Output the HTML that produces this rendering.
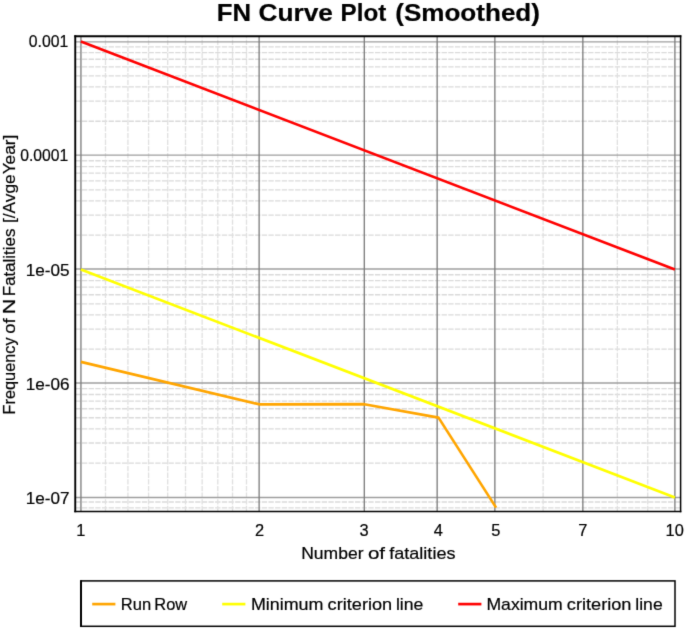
<!DOCTYPE html>
<html><head><meta charset="utf-8"><title>FN Curve Plot (Smoothed)</title>
<style>
html,body{margin:0;padding:0;background:#fff;}
body{width:685px;height:629px;overflow:hidden;}
svg{display:block;}
text{font-family:"Liberation Sans",sans-serif;fill:#000;stroke:#000;stroke-width:0.2px;}
</style></head><body>
<svg width="685" height="629" viewBox="0 0 685 629">
<g filter="url(#soft)">
<rect width="685" height="629" fill="#fff"/>
<defs><filter id="soft" x="0" y="0" width="100%" height="100%" filterUnits="objectBoundingBox" color-interpolation-filters="sRGB"><feConvolveMatrix order="3" kernelMatrix="0.0113 0.0838 0.0113 0.0838 0.6193 0.0838 0.0113 0.0838 0.0113" divisor="1" bias="0" edgeMode="duplicate" preserveAlpha="false"/></filter><clipPath id="pa"><rect x="75.3" y="36.3" width="605.3000000000001" height="474.9"/></clipPath></defs>
<g clip-path="url(#pa)" fill="none">
<g stroke="#DADADA" stroke-opacity="1" stroke-width="1.33" stroke-dasharray="5.33 1.33">
<path d="M75.3 507.80H680.6"/>
<path d="M75.3 502.00H680.6"/>
<path d="M75.3 463.10H680.6"/>
<path d="M75.3 443.03H680.6"/>
<path d="M75.3 428.80H680.6"/>
<path d="M75.3 417.75H680.6"/>
<path d="M75.3 408.73H680.6"/>
<path d="M75.3 401.10H680.6"/>
<path d="M75.3 394.49H680.6"/>
<path d="M75.3 388.66H680.6"/>
<path d="M75.3 349.15H680.6"/>
<path d="M75.3 329.08H680.6"/>
<path d="M75.3 314.85H680.6"/>
<path d="M75.3 303.80H680.6"/>
<path d="M75.3 294.78H680.6"/>
<path d="M75.3 287.15H680.6"/>
<path d="M75.3 280.54H680.6"/>
<path d="M75.3 274.71H680.6"/>
<path d="M75.3 235.20H680.6"/>
<path d="M75.3 215.13H680.6"/>
<path d="M75.3 200.90H680.6"/>
<path d="M75.3 189.85H680.6"/>
<path d="M75.3 180.83H680.6"/>
<path d="M75.3 173.20H680.6"/>
<path d="M75.3 166.59H680.6"/>
<path d="M75.3 160.76H680.6"/>
<path d="M75.3 121.25H680.6"/>
<path d="M75.3 101.18H680.6"/>
<path d="M75.3 86.95H680.6"/>
<path d="M75.3 75.90H680.6"/>
<path d="M75.3 66.88H680.6"/>
<path d="M75.3 59.25H680.6"/>
<path d="M75.3 52.64H680.6"/>
<path d="M75.3 46.81H680.6"/>
</g>
<g stroke="#E0E0E0" stroke-width="1.33" stroke-dasharray="5.33 1.33">
<path d="M105.49 511.2V36.3"/>
<path d="M127.93 511.2V36.3"/>
<path d="M148.58 511.2V36.3"/>
<path d="M167.70 511.2V36.3"/>
<path d="M185.50 511.2V36.3"/>
<path d="M202.15 511.2V36.3"/>
<path d="M217.79 511.2V36.3"/>
<path d="M232.53 511.2V36.3"/>
<path d="M246.48 511.2V36.3"/>
<path d="M543.12 511.2V36.3"/>
<path d="M617.34 511.2V36.3"/>
<path d="M647.72 511.2V36.3"/>
</g>
<g stroke="#7C7C7C" stroke-opacity="1" stroke-width="1.33">
<path d="M75.3 41.80H680.6" stroke="#9E9E9E"/>
<path d="M75.3 155.20H680.6" stroke="#9E9E9E"/>
<path d="M75.3 269.00H680.6" stroke="#9E9E9E"/>
<path d="M75.3 383.00H680.6" stroke="#9E9E9E"/>
<path d="M75.3 497.50H680.6" stroke="#9E9E9E"/>
<path d="M80.94 511.2V36.3"/>
<path d="M259.13 511.2V36.3"/>
<path d="M364.30 511.2V36.3"/>
<path d="M437.15 511.2V36.3"/>
<path d="M494.86 511.2V36.3"/>
<path d="M582.85 511.2V36.3"/>
<path d="M674.90 511.2V36.3"/>
</g>
<path d="M80.90 361.90 L259.71 404.40 L364.31 404.20 L438.52 417.60 L496.09 507.60" stroke="#FFA500" stroke-width="2.67" stroke-linejoin="round"/>
<path d="M80.90 269.50 L674.90 497.40" stroke="#FFFF00" stroke-width="2.67" stroke-linejoin="round"/>
<path d="M80.90 41.60 L674.90 269.50" stroke="#FF0000" stroke-width="2.67" stroke-linejoin="round"/>
</g>
<g stroke="#000" fill="none"><path d="M74.3 36.25H681.35" stroke-width="1.9"/><path d="M75.25 35.3V512.15" stroke-width="1.9"/><path d="M680.6 35.3V512.15" stroke-width="1.5"/><path d="M74.3 511.4H681.35" stroke-width="1.5"/></g>
<text id="title" y="20.8" font-size="24" font-weight="bold"><tspan x="216.70" textLength="34.33" lengthAdjust="spacingAndGlyphs">FN</tspan> <tspan x="258.42" textLength="74.48" lengthAdjust="spacingAndGlyphs">Curve</tspan> <tspan x="340.60" textLength="45.68" lengthAdjust="spacingAndGlyphs">Plot</tspan> <tspan x="395.22" textLength="144.75" lengthAdjust="spacingAndGlyphs">(Smoothed)</tspan></text>
<text class="yt" y="47.2" font-size="16.4"><tspan x="28.78" textLength="39.48" lengthAdjust="spacingAndGlyphs">0.001</tspan></text>
<text class="yt" y="160.9" font-size="16.4"><tspan x="20.19" textLength="48.08" lengthAdjust="spacingAndGlyphs">0.0001</tspan></text>
<text class="yt" y="275.9" font-size="16.4"><tspan x="25.80" textLength="43.82" lengthAdjust="spacingAndGlyphs">1e-05</tspan></text>
<text class="yt" y="389.9" font-size="16.4"><tspan x="25.80" textLength="43.85" lengthAdjust="spacingAndGlyphs">1e-06</tspan></text>
<text class="yt" y="503.7" font-size="16.4"><tspan x="25.80" textLength="43.77" lengthAdjust="spacingAndGlyphs">1e-07</tspan></text>
<text class="xt" x="80.70" y="536.2" text-anchor="middle" font-size="16.4">1</text>
<text class="xt" x="259.51" y="536.2" text-anchor="middle" font-size="16.4">2</text>
<text class="xt" x="364.11" y="536.2" text-anchor="middle" font-size="16.4">3</text>
<text class="xt" x="438.32" y="536.2" text-anchor="middle" font-size="16.4">4</text>
<text class="xt" x="495.89" y="536.2" text-anchor="middle" font-size="16.4">5</text>
<text class="xt" x="582.69" y="536.2" text-anchor="middle" font-size="16.4">7</text>
<text class="xt" x="674.70" y="536.2" text-anchor="middle" font-size="16.4">10</text>
<text id="xtitle" y="559.1" font-size="16.4"><tspan x="301.16" textLength="62.31" lengthAdjust="spacingAndGlyphs">Number</tspan> <tspan x="367.94" textLength="17.12" lengthAdjust="spacingAndGlyphs">of</tspan> <tspan x="389.25" textLength="66.21" lengthAdjust="spacingAndGlyphs">fatalities</tspan></text>
<text id="ytitle" transform="translate(15.25 0) rotate(-90)" font-size="16.4"><tspan x="-414.54" textLength="77.17" lengthAdjust="spacingAndGlyphs">Frequency</tspan> <tspan x="-333.78" textLength="15.44" lengthAdjust="spacingAndGlyphs">of</tspan> <tspan x="-314.37" textLength="15.63" lengthAdjust="spacingAndGlyphs">N</tspan> <tspan x="-296.18" textLength="67.50" lengthAdjust="spacingAndGlyphs">Fatalities</tspan> <tspan x="-223.13" textLength="88.56" lengthAdjust="spacingAndGlyphs">[/AvgeYear]</tspan></text>
<rect x="81" y="580.9" width="594" height="45.4" fill="#fff" stroke="#000" stroke-width="1.5"/>
<path d="M81 580.15V627.05" stroke="#000" stroke-width="2" fill="none"/>
<path d="M92.2 604.1H115.4" stroke="#FFA500" stroke-width="2.67" fill="none"/>
<text class="lg" y="610.3" font-size="16.4"><tspan x="120.84" textLength="30.32" lengthAdjust="spacingAndGlyphs">Run</tspan> <tspan x="154.36" textLength="32.80" lengthAdjust="spacingAndGlyphs">Row</tspan></text>
<path d="M222.2 604.1H245.4" stroke="#FFFF00" stroke-width="2.67" fill="none"/>
<text class="lg" y="610.3" font-size="16.4"><tspan x="250.93" textLength="72.52" lengthAdjust="spacingAndGlyphs">Minimum</tspan> <tspan x="327.64" textLength="64.52" lengthAdjust="spacingAndGlyphs">criterion</tspan> <tspan x="395.92" textLength="27.45" lengthAdjust="spacingAndGlyphs">line</tspan></text>
<path d="M458.2 604.1H481.4" stroke="#FF0000" stroke-width="2.67" fill="none"/>
<text class="lg" y="610.3" font-size="16.4"><tspan x="486.46" textLength="76.28" lengthAdjust="spacingAndGlyphs">Maximum</tspan> <tspan x="566.84" textLength="64.62" lengthAdjust="spacingAndGlyphs">criterion</tspan> <tspan x="635.32" textLength="27.34" lengthAdjust="spacingAndGlyphs">line</tspan></text>
</g>
</svg>
</body></html>
